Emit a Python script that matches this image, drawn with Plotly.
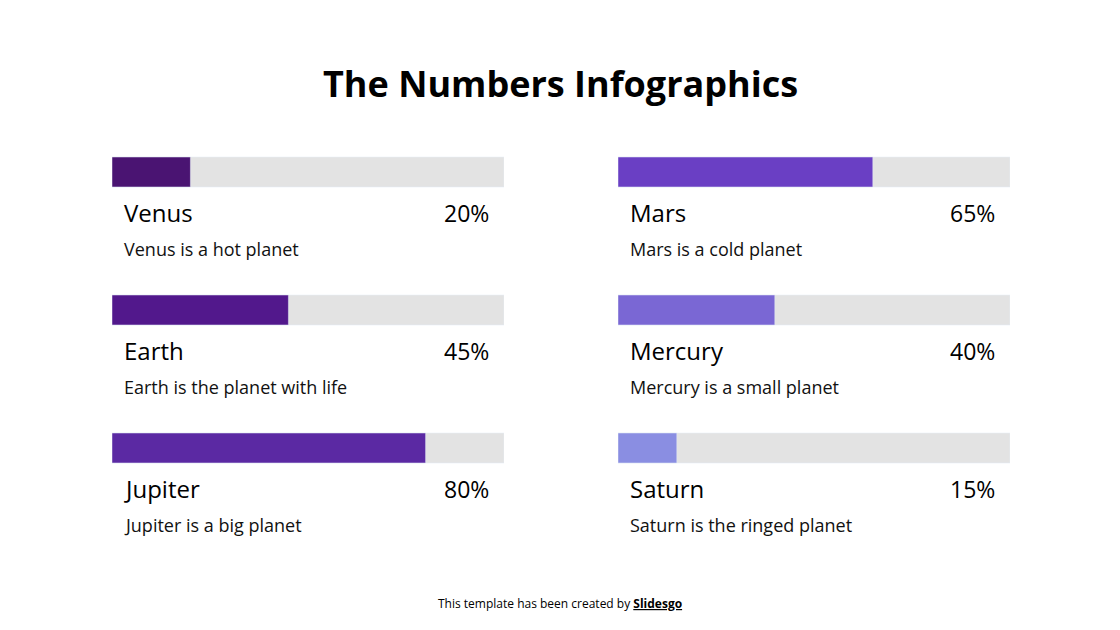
import plotly.graph_objects as go

names_left = ["Venus", "Earth", "Jupiter"]
values_left = [20, 45, 80]
desc_left = ["Venus is a hot planet", "Earth is the planet with life", "Jupiter is a big planet"]
colors_left = ["#4a1472", "#52188c", "#5b29a3"]

names_right = ["Mars", "Mercury", "Saturn"]
values_right = [65, 40, 15]
desc_right = ["Mars is a cold planet", "Mercury is a small planet", "Saturn is the ringed planet"]
colors_right = ["#6a3fc4", "#7a67d4", "#8a8ee2"]

W, H = 1120, 630
OFF = 8  # page body margin compensation
rows = [0, 1, 2]
fig = go.Figure()
for xa, vals, cols in [("x", values_left, colors_left), ("x2", values_right, colors_right)]:
    fig.add_trace(go.Bar(x=[100]*3, y=rows, orientation="h", marker_color="#e3e3e3",
                         width=0.217, xaxis=xa, yaxis="y", hoverinfo="skip"))
    fig.add_trace(go.Bar(x=vals, y=rows, orientation="h", marker_color=cols,
                         width=0.217, xaxis=xa, yaxis="y"))

ann = []
font = "Open Sans"
def P(px, py):
    return dict(x=(px - OFF) / W, y=1 - (py - OFF) / H, xref="paper", yref="paper", showarrow=False)

def add_col(names, vals, descs, x0, x1):
    for i, (n, v, d) in enumerate(zip(names, vals, descs)):
        yc = 172 + 138 * i
        ann.append(dict(**P(x0, yc + 41), text=n, xanchor="left", yanchor="middle",
                        font=dict(family=font, size=24, color="#000")))
        ann.append(dict(**P(x1, yc + 41), text=f"{v}%", xanchor="right", yanchor="middle",
                        font=dict(family=font, size=23, color="#000")))
        ann.append(dict(**P(x0, yc + 77), text=d, xanchor="left", yanchor="middle",
                        font=dict(family=font, size=18, color="#111")))
add_col(names_left, values_left, desc_left, 122, 491)
add_col(names_right, values_right, desc_right, 628, 997)
ann.append(dict(**P(560, 83), text="<b>The Numbers Infographics</b>",
                xanchor="center", yanchor="middle", font=dict(family=font, size=36, color="#000")))
ann.append(dict(**P(560, 603), text="This template has been created by <b><u>Slidesgo</u></b>",
                xanchor="center", yanchor="middle", font=dict(family=font, size=12, color="#000")))

ax = dict(range=[0, 100], visible=False, fixedrange=True)
y0 = 172 - OFF
fig.update_layout(
    width=W, height=H, margin=dict(l=0, r=0, t=0, b=0), paper_bgcolor="white", plot_bgcolor="white",
    barmode="overlay", showlegend=False, annotations=ann,
    xaxis=dict(domain=[(112 - OFF) / W, (504 - OFF) / W], **ax),
    xaxis2=dict(domain=[(618 - OFF) / W, (1010 - OFF) / W], **ax),
    yaxis=dict(range=[(630 - y0) / 138, -y0 / 138], visible=False, fixedrange=True),
)
fig.write_html("out.html", config={"displayModeBar": False})
